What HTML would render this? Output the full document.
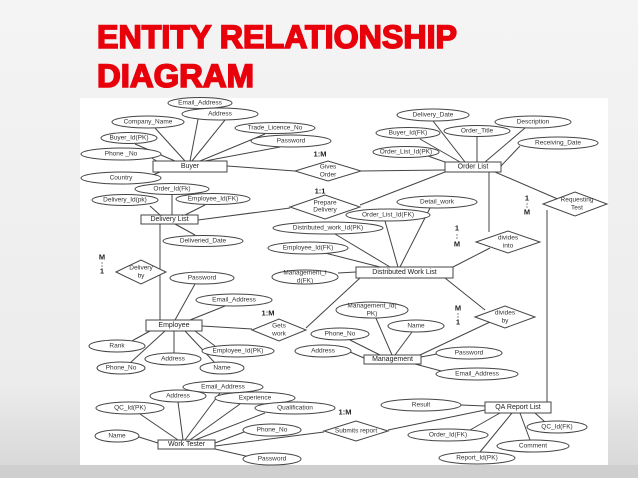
<!DOCTYPE html>
<html><head><meta charset="utf-8"><style>
html,body{margin:0;padding:0}
body{width:638px;height:478px;overflow:hidden;background:linear-gradient(180deg,#f4f4f4 0%,#ececec 80%,#d6d6d6 100%)}
svg{display:block}
text{font-family:"Liberation Sans",sans-serif}
.a{font-size:6.5px;fill:#333;text-anchor:middle;dominant-baseline:central}
.e{font-size:7px;fill:#222;text-anchor:middle;dominant-baseline:central}
.c{font-size:7.5px;fill:#222;font-weight:bold;text-anchor:middle;dominant-baseline:central}
.t{font-size:32px;font-weight:bold;fill:#e8000a;stroke:#e8000a;stroke-width:1.6px}
</style></head><body>
<svg width="638" height="478" viewBox="0 0 638 478" xmlns="http://www.w3.org/2000/svg">
<rect x="0" y="465" width="638" height="13" fill="#cfcfcf"/>
<text class="t" x="97" y="48" textLength="360" lengthAdjust="spacingAndGlyphs">ENTITY RELATIONSHIP</text>
<text class="t" x="97" y="87" textLength="157" lengthAdjust="spacingAndGlyphs">DIAGRAM</text>
<rect x="80" y="98" width="528" height="367" fill="#fff"/>
<g stroke="#444" stroke-width="1" fill="none">
<line x1="190" y1="161" x2="200" y2="109"/><line x1="192" y1="161" x2="225" y2="120"/>
<line x1="185" y1="161" x2="155" y2="128"/><line x1="200" y1="161" x2="265" y2="134"/>
<line x1="175" y1="161" x2="135" y2="144"/><line x1="205" y1="161" x2="280" y2="147"/>
<line x1="160" y1="163" x2="150" y2="157"/><line x1="160" y1="172" x2="150" y2="176"/>
<line x1="227" y1="166" x2="295" y2="171"/><line x1="361" y1="171" x2="445" y2="170"/>
<line x1="465" y1="162" x2="433" y2="121"/><line x1="460" y1="162" x2="420" y2="139"/>
<line x1="477" y1="162" x2="477" y2="137"/><line x1="485" y1="162" x2="525" y2="128"/>
<line x1="445" y1="162" x2="425" y2="155"/><line x1="501" y1="166" x2="520" y2="146"/>
<line x1="445" y1="172" x2="360" y2="205"/><line x1="198" y1="220" x2="290" y2="208"/>
<line x1="489" y1="172" x2="489" y2="232"/><line x1="495" y1="172" x2="560" y2="200"/>
<line x1="547" y1="210" x2="547" y2="402"/>
<line x1="172" y1="195" x2="172" y2="215"/><line x1="150" y1="206" x2="160" y2="215"/>
<line x1="205" y1="205" x2="185" y2="215"/><line x1="175" y1="224" x2="195" y2="235"/>
<line x1="160" y1="224" x2="160" y2="320"/>
<line x1="175" y1="320" x2="195" y2="284"/>
<line x1="430" y1="208" x2="400" y2="267"/><line x1="385" y1="221" x2="398" y2="267"/>
<line x1="335" y1="234" x2="390" y2="267"/><line x1="325" y1="253" x2="380" y2="267"/>
<line x1="338" y1="273" x2="356" y2="272"/>
<line x1="453" y1="267" x2="490" y2="248"/>
<line x1="445" y1="278" x2="485" y2="310"/>
<line x1="306" y1="328" x2="360" y2="278"/>
<line x1="202" y1="326" x2="252" y2="329"/><line x1="190" y1="320" x2="225" y2="306"/>
<line x1="150" y1="331" x2="130" y2="342"/><line x1="165" y1="331" x2="130" y2="363"/>
<line x1="174" y1="331" x2="174" y2="353"/><line x1="185" y1="331" x2="215" y2="363"/>
<line x1="195" y1="331" x2="215" y2="346"/>
<line x1="392" y1="355" x2="375" y2="316"/><line x1="395" y1="355" x2="412" y2="332"/>
<line x1="380" y1="355" x2="350" y2="340"/><line x1="364" y1="358" x2="350" y2="352"/>
<line x1="421" y1="357" x2="437" y2="354"/><line x1="415" y1="364" x2="445" y2="372"/>
<line x1="420" y1="355" x2="490" y2="322"/>
<line x1="185" y1="440" x2="220" y2="393"/><line x1="183" y1="440" x2="178" y2="402"/>
<line x1="190" y1="440" x2="240" y2="404"/><line x1="178" y1="440" x2="140" y2="414"/>
<line x1="195" y1="440" x2="265" y2="413"/><line x1="158" y1="443" x2="139" y2="437"/>
<line x1="215" y1="443" x2="244" y2="432"/><line x1="215" y1="449" x2="250" y2="457"/>
<line x1="215" y1="446" x2="324" y2="432"/><line x1="388" y1="430" x2="485" y2="410"/>
<line x1="461" y1="405" x2="485" y2="406"/><line x1="500" y1="413" x2="470" y2="430"/>
<line x1="512" y1="413" x2="480" y2="452"/><line x1="520" y1="413" x2="530" y2="440"/>
<line x1="535" y1="413" x2="545" y2="422"/>
</g>
<g stroke="#444" stroke-width="1" fill="#fff">
<rect x="153" y="161" width="74" height="11"/><rect x="445" y="162" width="56" height="10"/>
<rect x="141" y="215" width="57" height="9"/><rect x="356" y="267" width="97" height="11"/>
<rect x="146" y="320" width="56" height="11"/><rect x="364" y="355" width="57" height="9"/>
<rect x="158" y="440" width="57" height="9"/><rect x="485" y="402" width="66" height="11"/>
<polygon points="295,171 328,161 361,171 328,181"/>
<polygon points="290,207 325,195 360,207 325,219"/>
<polygon points="116,272 141,260 166,272 141,284"/>
<polygon points="476,242 508,231 540,242 508,253"/>
<polygon points="543,204 575,192 607,204 575,216"/>
<polygon points="475,317 505,306 535,317 505,328"/>
<polygon points="252,330 279,319 306,330 279,341"/>
<polygon points="324,431 356,421 388,431 356,441"/>
<ellipse cx="200" cy="103" rx="32" ry="5.5"/><ellipse cx="220" cy="114" rx="38" ry="6"/>
<ellipse cx="148" cy="122" rx="36" ry="6"/><ellipse cx="275" cy="128" rx="40" ry="5.5"/>
<ellipse cx="129" cy="138" rx="28" ry="5.5"/><ellipse cx="291" cy="141" rx="40" ry="6"/>
<ellipse cx="121" cy="154" rx="40" ry="6"/><ellipse cx="121" cy="178" rx="40" ry="6"/>
<ellipse cx="433" cy="115" rx="36" ry="6"/><ellipse cx="408" cy="133" rx="32" ry="5.5"/>
<ellipse cx="477" cy="131" rx="33" ry="5.5"/><ellipse cx="533" cy="122" rx="38" ry="6"/>
<ellipse cx="558" cy="143" rx="40" ry="6"/><ellipse cx="406" cy="152" rx="33" ry="5.5"/>
<ellipse cx="172" cy="189" rx="37" ry="5.5"/><ellipse cx="125" cy="200" rx="33" ry="5.5"/>
<ellipse cx="213" cy="199" rx="37" ry="5.5"/><ellipse cx="203" cy="241" rx="40" ry="5.5"/>
<ellipse cx="202" cy="278" rx="32" ry="6"/>
<ellipse cx="437" cy="202" rx="40" ry="6"/><ellipse cx="388" cy="215" rx="42" ry="6"/>
<ellipse cx="328" cy="228" rx="55" ry="6"/><ellipse cx="308" cy="248" rx="40" ry="6"/>
<ellipse cx="305" cy="277" rx="33" ry="7"/>
<ellipse cx="234" cy="300" rx="38" ry="6"/><ellipse cx="117" cy="346" rx="28" ry="6"/>
<ellipse cx="173" cy="359" rx="28" ry="6"/><ellipse cx="238" cy="351" rx="36" ry="6"/>
<ellipse cx="121" cy="368" rx="24" ry="6"/><ellipse cx="222" cy="368" rx="22" ry="6"/>
<ellipse cx="372" cy="310" rx="36" ry="8"/><ellipse cx="416" cy="326" rx="28" ry="6"/>
<ellipse cx="340" cy="334" rx="29" ry="6"/><ellipse cx="323" cy="351" rx="28" ry="6"/>
<ellipse cx="469" cy="353" rx="33" ry="6"/><ellipse cx="477" cy="374" rx="41" ry="6"/>
<ellipse cx="223" cy="387" rx="40" ry="6"/><ellipse cx="178" cy="396" rx="28" ry="6"/>
<ellipse cx="255" cy="398" rx="40" ry="6"/><ellipse cx="130" cy="408" rx="34" ry="6"/>
<ellipse cx="295" cy="408" rx="40" ry="6"/><ellipse cx="117" cy="436" rx="22" ry="6"/>
<ellipse cx="272" cy="430" rx="29" ry="6"/><ellipse cx="272" cy="459" rx="29" ry="6"/>
<ellipse cx="421" cy="405" rx="40" ry="6"/><ellipse cx="557" cy="427" rx="30" ry="6"/>
<ellipse cx="448" cy="435" rx="40" ry="6"/><ellipse cx="533" cy="446" rx="36" ry="6"/>
<ellipse cx="477" cy="458" rx="38" ry="6"/>
</g>
<g>
<text class="e" x="190" y="166.5">Buyer</text><text class="e" x="473" y="167">Order List</text>
<text class="e" x="169.5" y="219.5">Delivery List</text><text class="e" x="404.5" y="272.5">Distributed Work List</text>
<text class="e" x="174" y="325.5">Employee</text><text class="e" x="392.5" y="359.5">Management</text>
<text class="e" x="186.5" y="444.5">Work Tester</text><text class="e" x="518" y="407.5">QA Report List</text>
<text class="a" x="328" y="167">Gives</text><text class="a" x="328" y="175">Order</text>
<text class="a" x="325" y="203">Prepare</text><text class="a" x="325" y="210">Delivery</text>
<text class="a" x="141" y="268">Delivery</text><text class="a" x="141" y="276">by</text>
<text class="a" x="508" y="238">divides</text><text class="a" x="508" y="246">into</text>
<text class="a" x="577" y="200">Requesting</text><text class="a" x="577" y="208">Test</text>
<text class="a" x="505" y="313">divides</text><text class="a" x="505" y="321">by</text>
<text class="a" x="279" y="326">Gets</text><text class="a" x="279" y="334">work</text>
<text class="a" x="356" y="431">Submits report</text>
<text class="a" x="200" y="103">Email_Address</text><text class="a" x="220" y="114">Address</text>
<text class="a" x="148" y="122">Company_Name</text><text class="a" x="275" y="128">Trade_Licence_No</text>
<text class="a" x="129" y="138">Buyer_Id(PK)</text><text class="a" x="291" y="141">Password</text>
<text class="a" x="121" y="154">Phone _No</text><text class="a" x="121" y="178">Country</text>
<text class="a" x="433" y="115">Delivery_Date</text><text class="a" x="408" y="133">Buyer_Id(FK)</text>
<text class="a" x="477" y="131">Order_Title</text><text class="a" x="533" y="122">Description</text>
<text class="a" x="558" y="143">Receiving_Date</text><text class="a" x="406" y="152">Order_List_Id(PK)</text>
<text class="a" x="172" y="189">Order_Id(Fk)</text><text class="a" x="125" y="200">Delivery_Id(pk)</text>
<text class="a" x="213" y="199">Employee_Id(FK)</text><text class="a" x="203" y="241">Deliveried_Date</text>
<text class="a" x="202" y="278">Password</text>
<text class="a" x="437" y="202">Detail_work</text><text class="a" x="388" y="215">Order_List_Id(FK)</text>
<text class="a" x="328" y="228">Distributed_work_Id(PK)</text><text class="a" x="308" y="248">Employee_Id(FK)</text>
<text class="a" x="305" y="273">Management_I</text><text class="a" x="305" y="281">d(FK)</text>
<text class="a" x="234" y="300">Email_Address</text><text class="a" x="117" y="346">Rank</text>
<text class="a" x="173" y="359">Address</text><text class="a" x="238" y="351">Employee_Id(PK)</text>
<text class="a" x="121" y="368">Phone_No</text><text class="a" x="222" y="368">Name</text>
<text class="a" x="372" y="306">Management_Id(</text><text class="a" x="372" y="314">PK)</text>
<text class="a" x="416" y="326">Name</text><text class="a" x="340" y="334">Phone_No</text>
<text class="a" x="323" y="351">Address</text><text class="a" x="469" y="353">Password</text>
<text class="a" x="477" y="374">Email_Address</text>
<text class="a" x="223" y="387">Email_Address</text><text class="a" x="178" y="396">Address</text>
<text class="a" x="255" y="398">Experience</text><text class="a" x="130" y="408">QC_Id(PK)</text>
<text class="a" x="295" y="408">Qualification</text><text class="a" x="117" y="436">Name</text>
<text class="a" x="272" y="430">Phone_No</text><text class="a" x="272" y="459">Password</text>
<text class="a" x="421" y="405">Result</text><text class="a" x="557" y="427">QC_Id(FK)</text>
<text class="a" x="448" y="435">Order_Id(FK)</text><text class="a" x="533" y="446">Comment</text>
<text class="a" x="477" y="458">Report_Id(PK)</text>
<text class="c" x="320" y="154">1:M</text><text class="c" x="320" y="191">1:1</text>
<text class="c" x="268" y="313">1:M</text><text class="c" x="345" y="412">1:M</text>
<text class="c" x="102" y="257">M</text><text class="c" x="102" y="264">:</text><text class="c" x="102" y="271">1</text>
<text class="c" x="457" y="228">1</text><text class="c" x="457" y="236">:</text><text class="c" x="457" y="244">M</text>
<text class="c" x="527" y="198">1</text><text class="c" x="527" y="205">:</text><text class="c" x="527" y="212">M</text>
<text class="c" x="458" y="308">M</text><text class="c" x="458" y="315">:</text><text class="c" x="458" y="322">1</text>
</g>
</svg>
</body></html>
